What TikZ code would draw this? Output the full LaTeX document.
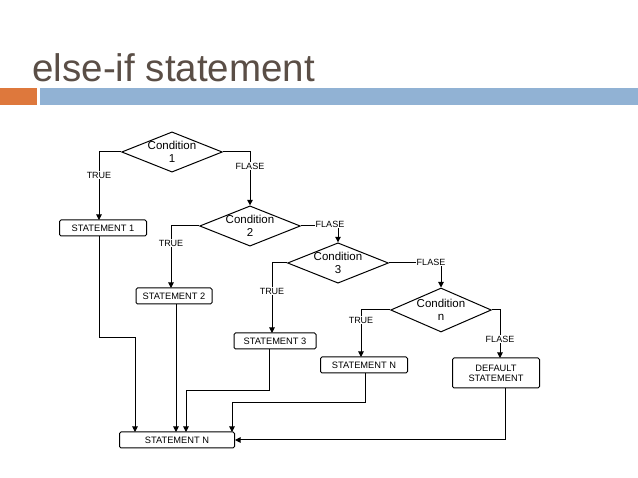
\documentclass[tikz,border=0pt]{standalone}
\usepackage{fontspec}
\setmainfont{Liberation Sans}
\usetikzlibrary{shapes.geometric,arrows.meta}
\definecolor{titlec}{RGB}{90,78,70}
\definecolor{orangebar}{RGB}{222,120,60}
\definecolor{bluebar}{RGB}{145,178,212}
\begin{document}
\begin{tikzpicture}[x=1pt,y=-1pt,
  cond/.style={diamond,draw,line width=1pt,aspect=2.5,inner sep=0pt,align=center,font=\fontsize{11.5}{12.5}\selectfont},
  stmt/.style={draw,line width=1pt,rounded corners=1.5pt,align=center,font=\fontsize{9.3}{10.3}\selectfont,inner sep=0.5pt},
  lbl/.style={font=\fontsize{9}{9.5}\selectfont,fill=white,inner sep=1pt},
  conn/.style={line width=1pt,-{Triangle[length=5.5pt,width=5.5pt]}}]
\useasboundingbox (0,0) rectangle (638,478);
\node[anchor=west,text=titlec,font=\fontsize{38.5}{40}\selectfont] (title) at (29,68) {else-if statement};
\fill[orangebar] (0,88) rectangle (37,105);
\fill[bluebar] (40,88) rectangle (638,105);
\node[cond,minimum width=96,minimum height=38] (c1) at (172,152) {Condition\\1};
\node[cond,minimum width=96,minimum height=36] (c2) at (250,226) {Condition\\2};
\node[cond,minimum width=96,minimum height=36] (c3) at (338,263) {Condition\\3};
\node[cond,minimum width=84,minimum height=44] (cn) at (441,310) {Condition\\n};
\node[stmt,minimum width=87,minimum height=16] (s1) at (103,228) {STATEMENT 1};
\node[stmt,minimum width=76,minimum height=16] (s2) at (174,296) {STATEMENT 2};
\node[stmt,minimum width=82,minimum height=16] (s3) at (275,341) {STATEMENT 3};
\node[stmt,minimum width=87,minimum height=16] (sn) at (364,365) {STATEMENT N};
\node[stmt,minimum width=87,minimum height=30] (sd) at (496,373) {DEFAULT\\STATEMENT};
\node[stmt,minimum width=115,minimum height=16] (sb) at (177,440) {STATEMENT N};
\draw[conn] (c1.west) -| (99,220);
\draw[conn] (c1.east) -| (c2.north);
\draw[conn] (c2.west) -| (171,288);
\draw[conn] (c2.east) -| (c3.north);
\draw[conn] (c3.west) -| (272,333);
\draw[conn] (c3.east) -| (cn.north);
\draw[conn] (cn.west) -| (361,357);
\draw[conn] (cn.east) -| (500,358);
\node[lbl] (l1) at (99,175) {TRUE};
\node[lbl] (l2) at (250,166) {FLASE};
\node[lbl] (l3) at (171,243) {TRUE};
\node[lbl] (l4) at (330,224) {FLASE};
\node[lbl] (l5) at (272,291) {TRUE};
\node[lbl] (l6) at (431,262) {FLASE};
\node[lbl] (l7) at (361,320) {TRUE};
\node[lbl] (l8) at (500,339) {FLASE};
\draw[conn] (99,236) |- (135,338) -- (135,432);
\draw[conn] (176,304) -- (176,432);
\draw[conn] (269,349) |- (186,391) -- (186,432);
\draw[conn] (365,373) |- (232,403) -- (232,432);
\draw[conn] (505,388) |- (sb.east);
\end{tikzpicture}
\end{document}
